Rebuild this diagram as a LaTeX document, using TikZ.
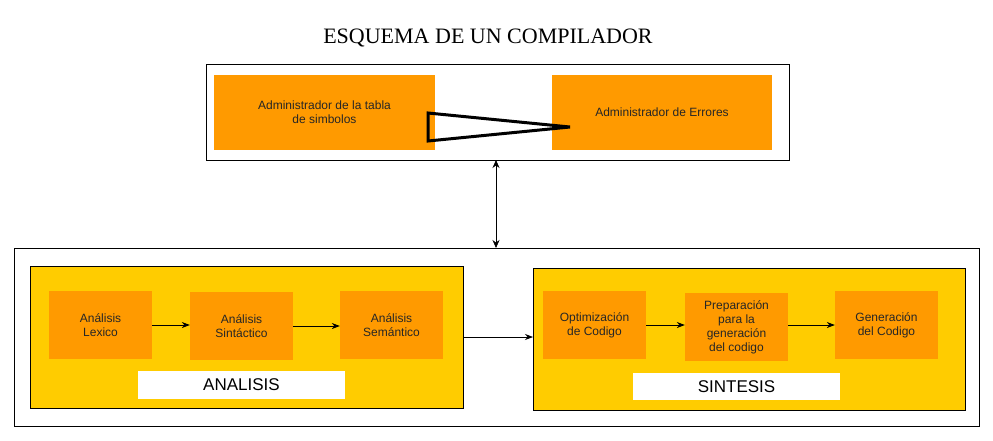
\documentclass[tikz,border=0pt]{standalone}
\usepackage{fontspec}
\setmainfont{Liberation Sans}
\newfontfamily\titlefont{Liberation Serif}
\usetikzlibrary{arrows.meta}
\definecolor{orng}{HTML}{FF9A00}
\definecolor{ylw}{HTML}{FFCC00}
\begin{document}
\begin{tikzpicture}[x=1pt,y=-1pt,
  box/.style={fill=orng,draw=none,align=center,font=\fontsize{12}{14}\selectfont,text=black!85},
  frame/.style={draw=black,line width=0.8pt,fill=white},
  yb/.style={draw=black,line width=0.8pt,fill=ylw},
  lbl/.style={fill=white,font=\fontsize{17}{19}\selectfont},
  arr/.style={-{Stealth[length=8pt,width=6pt]},line width=0.7pt}]
\useasboundingbox (0,0) rectangle (993,440);
\node[font=\titlefont\fontsize{22}{25}\selectfont] (title) at (488,38) {ESQUEMA DE UN COMPILADOR};
\draw[frame] (206,64) rectangle (789,160);
\coordinate (topb) at (496,160);
\path[box] (214,75) rectangle (435,150);
\node[box,fill=none] (a1) at (324.5,112) {Administrador de la tabla\\de simbolos};
\path[box] (552,75) rectangle (772,150);
\node[box,fill=none] (a2) at (662,112) {Administrador de Errores};
\draw[line width=3pt,line join=miter] (428,113) -- (428,141) -- (570,127) -- cycle;
\draw[frame] (14,248) rectangle (979,426);
\coordinate (botb) at (496,248);
\draw[{Stealth[length=8pt,width=7pt]}-{Stealth[length=8pt,width=7pt]},line width=0.7pt] (topb) -- (botb);
\draw[yb] (30,266) rectangle (463,408);
\draw[yb] (533,268) rectangle (965,410);
\node[box,minimum width=103pt,minimum height=68pt] (l1) at (100.5,325) {Análisis\\Lexico};
\node[box,minimum width=103pt,minimum height=68pt] (l2) at (241.5,326) {Análisis\\Sintáctico};
\node[box,minimum width=103pt,minimum height=68pt] (l3) at (391.5,325) {Análisis\\Semántico};
\node[box,minimum width=103pt,minimum height=68pt] (r1) at (594.5,325) {Optimización\\de Codigo};
\node[box,minimum width=103pt,minimum height=68pt,inner sep=1pt] (r2) at (736.5,327) {Preparación\\para la\\generación\\del codigo};
\node[box,minimum width=103pt,minimum height=68pt] (r3) at (886.5,325) {Generación\\del Codigo};
\node[lbl,minimum width=207pt,minimum height=28pt] (la) at (241.5,385) {ANALISIS};
\node[lbl,minimum width=207pt,minimum height=27pt] (ls) at (736.5,386.5) {SINTESIS};
\draw[arr] (l1.east) -- (l2.west |- l1.east);
\draw[arr] (l2.east) -- (l3.west |- l2.east);
\draw[arr] (r1.east) -- (r2.west |- r1.east);
\draw[arr] (r2.east |- r3.east) -- (r3.west);
\coordinate (ya) at (463,337);
\coordinate (yb2) at (533,337);
\draw[arr] (ya) -- (yb2);
\end{tikzpicture}
\end{document}
